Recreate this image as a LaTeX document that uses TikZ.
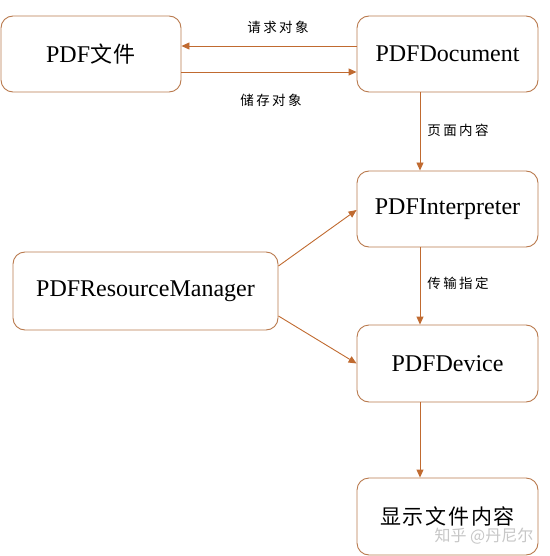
\documentclass[tikz,border=0pt]{standalone}
\usepackage{fontspec}
\setmainfont{Liberation Serif}
\newfontfamily\cjk{Noto Sans CJK SC}
\newfontfamily\cjkbox[LetterSpace=8]{Noto Sans CJK SC}
\newfontfamily\cjklab[LetterSpace=18]{Noto Sans CJK SC}
\usetikzlibrary{arrows.meta}
\definecolor{boxc}{RGB}{185,122,78}
\definecolor{arrc}{RGB}{192,106,48}
\tikzset{
  box/.style={draw=boxc, line width=0.9pt, rounded corners=12pt, fill=white,
    minimum width=181pt, minimum height=76pt, inner sep=0pt,
    font=\fontsize{24}{28}\selectfont},
  arr/.style={draw=arrc, line width=0.9pt, -{Triangle[length=8pt,width=7pt]}},
  lab/.style={inner sep=0pt, font=\cjklab\fontsize{13.5}{15}\selectfont, text=black}
}
\begin{document}
\begin{tikzpicture}[x=1pt,y=-1pt]
\useasboundingbox (0,0) rectangle (549,556);
\node[box, minimum width=180pt] (file) at (91,54) {PDF{\cjkbox\fontsize{22}{26}\selectfont 文件}};
\node[box] (doc) at (447.5,54) {PDFDocument};
\node[box] (interp) at (447.5,209) {PDFInterpreter};
\node[box, minimum height=77pt] (dev) at (447.5,363.5) {PDFDevice};
\node[box, minimum height=77pt] (show) at (447.5,516.5) {{\cjkbox\fontsize{21}{26}\selectfont 显示文件内容}};
\node[box, minimum width=265pt, minimum height=78pt] (mgr) at (145.5,291) {PDFResourceManager};

\draw[arr] ([yshift=8pt]doc.west) -- ([yshift=8pt]file.east);
\draw[arr] ([yshift=-18pt]file.east) -- ([yshift=-18pt]doc.west);
\draw[arr] ([xshift=-27.5pt]doc.south) -- ([xshift=-27.5pt]interp.north);
\draw[arr] ([xshift=-27.5pt]interp.south) -- ([xshift=-27.5pt]dev.north);
\draw[arr] ([xshift=-27.5pt]dev.south) -- ([xshift=-27.5pt]show.north);
\draw[arr] ([yshift=25pt]mgr.east) -- ([yshift=-1pt]interp.west);
\draw[arr] ([yshift=-25pt]mgr.east) -- (dev.west);

\node[lab] (l1) at (278,27) {请求对象};
\node[lab] (l2) at (271,100) {储存对象};
\node[lab] (l3) at (458,130) {页面内容};
\node[lab] (l4) at (458,283) {传输指定};
\node[inner sep=0pt, text=black!22, font=\cjk\fontsize{16}{18}\selectfont] (wm) at (484,536) {知乎 @丹尼尔};
\end{tikzpicture}
\end{document}
